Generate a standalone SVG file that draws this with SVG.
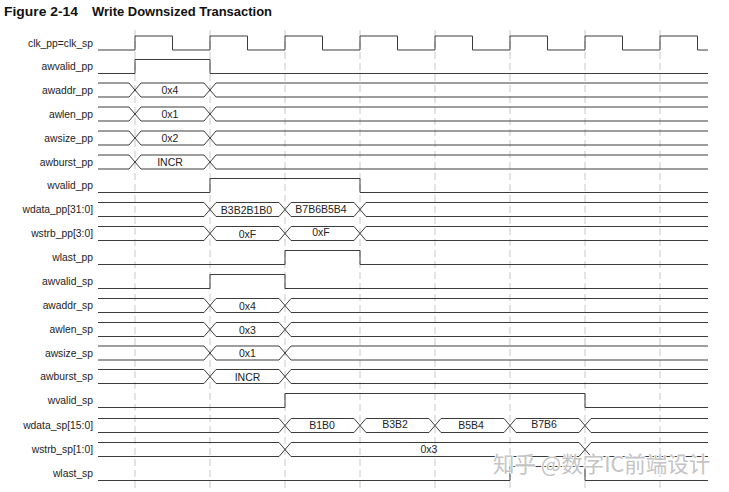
<svg xmlns="http://www.w3.org/2000/svg" width="729" height="492" viewBox="0 0 729 492">
<style>
.title{font-family:"Liberation Sans",Arial,sans-serif;font-weight:bold;font-size:13px;fill:#111}
.lbl{font-family:"Liberation Sans",Arial,sans-serif;font-size:10.3px;fill:#222;text-anchor:end}
.val{font-family:"Liberation Sans",Arial,sans-serif;font-size:10.5px;fill:#222;text-anchor:middle}
.w{fill:none;stroke:#3c3c3c;stroke-width:1}
.grid{stroke:#c8c8c8;stroke-width:1;stroke-dasharray:7 4;fill:none}
.wm{font-family:"Noto Sans CJK SC","Noto Sans",sans-serif;font-size:21.5px;fill:#c4c4c4;stroke:#fff;stroke-width:1.5;paint-order:stroke}
</style>
<rect width="729" height="492" fill="#fff"/>
<text class="title" x="4" y="16" textLength="74" lengthAdjust="spacingAndGlyphs">Figure 2-14</text>
<text class="title" x="92" y="16" textLength="180" lengthAdjust="spacingAndGlyphs">Write Downsized Transaction</text>
<g id="connectors">
<path class="grid" d="M135 30V492M210 30V492M285 30V492M360 30V492M435 30V492M510 30V492M585 30V492M660 30V492"/>
</g>
<g id="clk" transform="translate(0,36)"><text class="lbl" x="93" y="10.5">clk_pp=clk_sp</text>
<path class="w" d="M98 14H135V0H172.5V14H210V0H247.5V14H285V0H322.5V14H360V0H397.5V14H435V0H472.5V14H510V0H547.5V14H585V0H622.5V14H660V0H697.5V14H708"/></g>
<g id="awvalid_pp" transform="translate(0,59.5)"><text class="lbl" x="93" y="10.5">awvalid_pp</text>
<path class="w" d="M98 14H135V0H210V14H708"/></g>
<g id="awaddr_pp" transform="translate(0,83)"><text class="lbl" x="93" y="10.5">awaddr_pp</text>
<path class="w" d="M98 0H129L141 14H204L216 0H708M98 14H129L141 0H204L216 14H708"/><text class="val" x="170" y="11">0x4</text></g>
<g id="awlen_pp" transform="translate(0,107)"><text class="lbl" x="93" y="10.5">awlen_pp</text>
<path class="w" d="M98 0H129L141 14H204L216 0H708M98 14H129L141 0H204L216 14H708"/><text class="val" x="170" y="11">0x1</text></g>
<g id="awsize_pp" transform="translate(0,131)"><text class="lbl" x="93" y="10.5">awsize_pp</text>
<path class="w" d="M98 0H129L141 14H204L216 0H708M98 14H129L141 0H204L216 14H708"/><text class="val" x="170" y="11">0x2</text></g>
<g id="awburst_pp" transform="translate(0,155)"><text class="lbl" x="93" y="10.5">awburst_pp</text>
<path class="w" d="M98 0H129L141 14H204L216 0H708M98 14H129L141 0H204L216 14H708"/><text class="val" x="170" y="11">INCR</text></g>
<g id="wvalid_pp" transform="translate(0,178.5)"><text class="lbl" x="93" y="10.5">wvalid_pp</text>
<path class="w" d="M98 14H210V0H360V14H708"/></g>
<g id="wdata_pp" transform="translate(0,202.5)"><text class="lbl" x="93" y="10.5">wdata_pp[31:0]</text>
<path class="w" d="M98 0H204L216 14H279L291 0H354L366 14H708M98 14H204L216 0H279L291 14H354L366 0H708"/><text class="val" x="246.5" y="11">B3B2B1B0</text><text class="val" x="321" y="10">B7B6B5B4</text></g>
<g id="wstrb_pp" transform="translate(0,226.5)"><text class="lbl" x="93" y="10.5">wstrb_pp[3:0]</text>
<path class="w" d="M98 0H204L216 14H279L291 0H354L366 14H708M98 14H204L216 0H279L291 14H354L366 0H708"/><text class="val" x="247.5" y="11.5">0xF</text><text class="val" x="321" y="9.5">0xF</text></g>
<g id="wlast_pp" transform="translate(0,250.5)"><text class="lbl" x="93" y="10.5">wlast_pp</text>
<path class="w" d="M98 14H285V0H360V14H708"/></g>
<g id="awvalid_sp" transform="translate(0,274.5)"><text class="lbl" x="93" y="10.5">awvalid_sp</text>
<path class="w" d="M98 14H210V0H285V14H708"/></g>
<g id="awaddr_sp" transform="translate(0,298.5)"><text class="lbl" x="93" y="10.5">awaddr_sp</text>
<path class="w" d="M98 0H204L216 14H279L291 0H708M98 14H204L216 0H279L291 14H708"/><text class="val" x="247.5" y="11">0x4</text></g>
<g id="awlen_sp" transform="translate(0,322.5)"><text class="lbl" x="93" y="10.5">awlen_sp</text>
<path class="w" d="M98 0H204L216 14H279L291 0H708M98 14H204L216 0H279L291 14H708"/><text class="val" x="247.5" y="11">0x3</text></g>
<g id="awsize_sp" transform="translate(0,346)"><text class="lbl" x="93" y="10.5">awsize_sp</text>
<path class="w" d="M98 0H204L216 14H279L291 0H708M98 14H204L216 0H279L291 14H708"/><text class="val" x="247.5" y="11">0x1</text></g>
<g id="awburst_sp" transform="translate(0,369.5)"><text class="lbl" x="93" y="10.5">awburst_sp</text>
<path class="w" d="M98 0H204L216 14H279L291 0H708M98 14H204L216 0H279L291 14H708"/><text class="val" x="247.5" y="11">INCR</text></g>
<g id="wvalid_sp" transform="translate(0,393.5)"><text class="lbl" x="93" y="10.5">wvalid_sp</text>
<path class="w" d="M98 14H285V0H585V14H708"/></g>
<g id="wdata_sp" transform="translate(0,418.5)"><text class="lbl" x="93" y="10.5">wdata_sp[15:0]</text>
<path class="w" d="M98 0H279L291 14H354L366 0H429L441 14H504L516 0H579L591 14H708M98 14H279L291 0H354L366 14H429L441 0H504L516 14H579L591 0H708"/><text class="val" x="322" y="10.5">B1B0</text><text class="val" x="395" y="9">B3B2</text><text class="val" x="471" y="10.5">B5B4</text><text class="val" x="544" y="9.5">B7B6</text></g>
<g id="wstrb_sp" transform="translate(0,442.5)"><text class="lbl" x="93" y="10.5">wstrb_sp[1:0]</text>
<path class="w" d="M98 0H279L291 14H579L591 0H708M98 14H279L291 0H579L591 14H708"/><text class="val" x="429" y="10">0x3</text></g>
<g id="wlast_sp" transform="translate(0,466.5)"><text class="lbl" x="93" y="10.5">wlast_sp</text>
<path class="w" d="M98 14H510V0H585V14H708"/></g>
<text class="wm" x="493" y="472">知乎 @数字IC前端设计</text>
</svg>
